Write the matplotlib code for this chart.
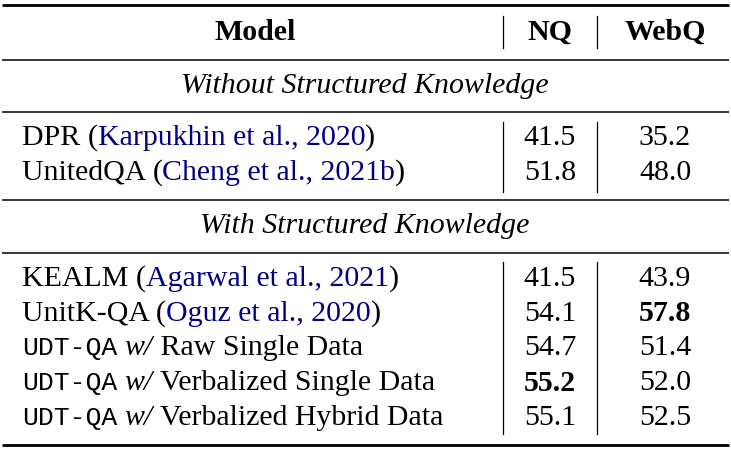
import matplotlib.pyplot as plt

serif = 'Liberation Serif'
mono = 'Liberation Mono'
cite_color = '#000080'

# rows: (mono prefix, plain name, citation, NQ, WebQ)
group1 = [
    ('', 'DPR ', 'Karpukhin et al., 2020', '41.5', '35.2'),
    ('', 'UnitedQA ', 'Cheng et al., 2021b', '51.8', '48.0'),
]
group2 = [
    ('', 'KEALM ', 'Agarwal et al., 2021', '41.5', '43.9'),
    ('', 'UnitK-QA ', 'Oguz et al., 2020', '54.1', '57.8'),
    ('UDT-QA', ' Raw Single Data', '', '54.7', '51.4'),
    ('UDT-QA', ' Verbalized Single Data', '', '55.2', '52.0'),
    ('UDT-QA', ' Verbalized Hybrid Data', '', '55.1', '52.5'),
]
bold_cells = {('55.2', 'NQ'), ('57.8', 'WebQ')}

W, H = 731, 451
fig = plt.figure(figsize=(W / 100, H / 100), dpi=100)
ax = fig.add_axes([0, 0, 1, 1])
ax.set_xlim(0, W)
ax.set_ylim(H, 0)
ax.axis('off')

fs = 21.5
x_left = 22
x_nq, x_wq = 550, 665
bar1, bar2 = 503, 597


def hline(y, lw):
    ax.plot([2, 729], [y, y], color='black', lw=lw, solid_capstyle='butt')


def vbars(y0, y1):
    for bx in (bar1, bar2):
        ax.plot([bx, bx], [y0, y1], color='black', lw=0.9)


fig.canvas.draw()
renderer = fig.canvas.get_renderer()


def advance(t):
    bb = t.get_window_extent(renderer)
    return t.get_position()[0] + bb.width


def draw_row(y, row):
    prefix, name, cite, nq, wq = row
    x = x_left
    if prefix:
        t = ax.text(x, y, prefix, family=mono, fontsize=fs - 2.5, va='center')
        x = advance(t)
        t = ax.text(x, y, ' ', family=serif, fontsize=fs, va='center')
        x = advance(t)
        t = ax.text(x, y, 'w/', family=serif, style='italic', fontsize=fs, va='center')
        x = advance(t)
    t = ax.text(x, y, name, family=serif, fontsize=fs, va='center')
    x = advance(t)
    if cite:
        for s, c in (('(', 'black'), (cite, cite_color), (')', 'black')):
            t = ax.text(x, y, s, family=serif, fontsize=fs, va='center', color=c)
            x = advance(t)
    for val, cx, col in ((nq, x_nq, 'NQ'), (wq, x_wq, 'WebQ')):
        w = 'bold' if (val, col) in bold_cells else 'normal'
        ax.text(cx, y, val, family=serif, fontsize=fs, va='center', ha='center', weight=w)


hline(5, 2.0)
ax.text(255, 32, 'Model', family=serif, weight='bold', fontsize=fs, ha='center', va='center')
ax.text(x_nq, 32, 'NQ', family=serif, weight='bold', fontsize=fs, ha='center', va='center')
ax.text(x_wq, 32, 'WebQ', family=serif, weight='bold', fontsize=fs, ha='center', va='center')
vbars(16, 48)
hline(60, 1.1)
ax.text(365, 86, 'Without Structured Knowledge', family=serif, style='italic',
        fontsize=fs, ha='center', va='center')
hline(112, 1.1)
for i, row in enumerate(group1):
    draw_row(138 + 35 * i, row)
vbars(122, 192)
hline(200, 1.1)
ax.text(365, 226, 'With Structured Knowledge', family=serif, style='italic',
        fontsize=fs, ha='center', va='center')
hline(253, 1.1)
for i, row in enumerate(group2):
    draw_row(279 + 34.7 * i, row)
vbars(262, 434)
hline(445, 2.0)

fig.savefig('out.png', dpi=100)
